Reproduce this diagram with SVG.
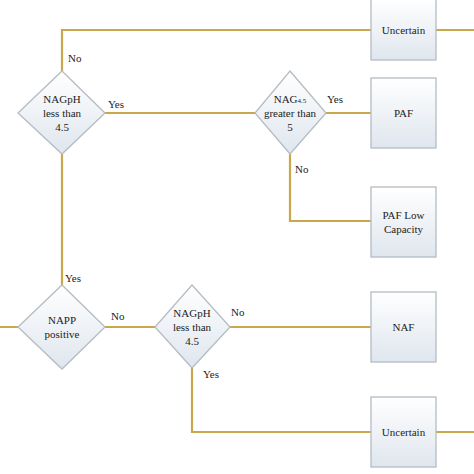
<svg xmlns="http://www.w3.org/2000/svg" width="474" height="474" viewBox="0 0 474 474">
<defs>
<linearGradient id="g" x1="0" y1="0" x2="0" y2="1"><stop offset="0" stop-color="#ffffff"/><stop offset="1" stop-color="#dfe6ee"/></linearGradient>
<style>
.n{fill:url(#g);stroke:#b4bcc4;stroke-width:1.3}
.c{fill:none;stroke:#c9a74a;stroke-width:2.2}
text{font-family:'Liberation Serif','Times New Roman','DejaVu Serif',serif;font-size:11px;fill:#222;text-anchor:middle}
.l{text-anchor:start}
</style>
</defs>
<rect width="474" height="474" fill="#fff"/>
<g id="connectors">
<path class="c" d="M62 71V30H371M436 30H474"/>
<path class="c" d="M105 113H255M326 113H371"/>
<path class="c" d="M290 154V221H371"/>
<path class="c" d="M62 154V285"/>
<path class="c" d="M0 327H18M105 327H155M230 327H371"/>
<path class="c" d="M192 368V432H371M436 432H474"/>
</g>
<g id="uncertain1"><rect class="n" x="371" y="-1" width="65" height="61"/><text x="403.5" y="34">Uncertain</text></g>
<g id="d1"><path class="n" d="M62 71L105 113L62 154L18 113Z"/><text x="62" y="103">NAGpH</text><text x="62" y="117">less than</text><text x="62" y="131">4.5</text></g>
<g id="d2"><path class="n" d="M290 71L326 113L290 154L255 113Z"/><text x="290" y="103">NAG<tspan font-size="7">4.5</tspan></text><text x="290" y="117">greater than</text><text x="290" y="131">5</text></g>
<g id="paf"><rect class="n" x="371" y="78" width="65" height="70"/><text x="403.5" y="117">PAF</text></g>
<g id="paflow"><rect class="n" x="371" y="187" width="65" height="70"/><text x="403.5" y="219">PAF Low</text><text x="403.5" y="233">Capacity</text></g>
<g id="napp"><path class="n" d="M62 285L105 327L62 369L18 327Z"/><text x="62" y="324">NAPP</text><text x="62" y="338">positive</text></g>
<g id="d3"><path class="n" d="M192 285L230 327L192 368L155 327Z"/><text x="192" y="317">NAGpH</text><text x="192" y="331">less than</text><text x="192" y="345">4.5</text></g>
<g id="naf"><rect class="n" x="371" y="292" width="65" height="70"/><text x="403.5" y="331">NAF</text></g>
<g id="uncertain2"><rect class="n" x="371" y="397" width="65" height="70"/><text x="403.5" y="436">Uncertain</text></g>
<g id="labels">
<text class="l" x="68" y="62">No</text>
<text class="l" x="108" y="108">Yes</text>
<text class="l" x="327" y="103">Yes</text>
<text class="l" x="295" y="173">No</text>
<text class="l" x="65" y="282">Yes</text>
<text class="l" x="111" y="320">No</text>
<text class="l" x="231" y="316">No</text>
<text class="l" x="203" y="378">Yes</text>
</g>
</svg>
